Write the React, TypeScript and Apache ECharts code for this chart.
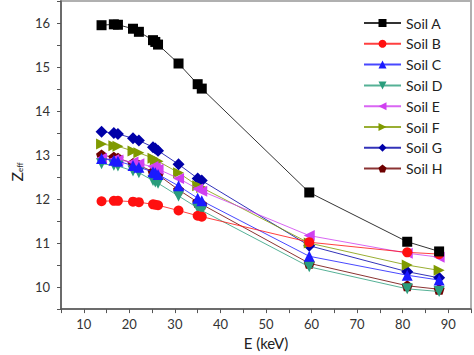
import React, { useEffect, useRef } from "react";
import * as echarts from "echarts";

const energies = [13.9, 16.6, 17.5, 20.8, 22.1, 25.2, 25.7, 26.3, 30.8, 35.0, 35.9, 59.5, 81.0, 88.0];
const soilA = [15.95, 15.97, 15.96, 15.87, 15.8, 15.61, 15.57, 15.51, 15.08, 14.61, 14.51, 12.15, 11.03, 10.81];
const soilB = [11.95, 11.96, 11.96, 11.94, 11.93, 11.88, 11.87, 11.86, 11.74, 11.62, 11.6, 11.02, 10.79, 10.75];
const soilC = [12.92, 12.88, 12.86, 12.76, 12.72, 12.62, 12.6, 12.56, 12.3, 12.02, 11.96, 10.7, 10.27, 10.16];
const soilD = [12.8, 12.77, 12.75, 12.64, 12.6, 12.42, 12.39, 12.36, 12.07, 11.8, 11.74, 10.46, 9.96, 9.9];
const soilE = [12.93, 12.9, 12.89, 12.84, 12.8, 12.74, 12.71, 12.68, 12.47, 12.23, 12.18, 11.17, 10.77, 10.68];
const soilF = [13.25, 13.21, 13.2, 13.09, 13.05, 12.93, 12.89, 12.86, 12.6, 12.3, 12.26, 11.0, 10.5, 10.38];
const soilG = [13.53, 13.5, 13.48, 13.38, 13.33, 13.18, 13.15, 13.1, 12.79, 12.47, 12.42, 10.94, 10.35, 10.21];
const soilH = [13.0, 12.95, 12.93, 12.81, 12.77, 12.62, 12.58, 12.55, 12.21, 11.93, 11.88, 10.54, 10.03, 9.95];

const seriesNames = ["Soil A", "Soil B", "Soil C", "Soil D", "Soil E", "Soil F", "Soil G", "Soil H"];
const seriesValues = [soilA, soilB, soilC, soilD, soilE, soilF, soilG, soilH];
const seriesColors = ["#000000", "#ff1010", "#1a1aff", "#2a9d7c", "#d040f0", "#7f9a00", "#0000a8", "#6e0000"];
const seriesSymbols = [
  "rect",
  "circle",
  "triangle",
  "path://M0,0 L10,0 L5,9 Z",
  "path://M0,5 L9,0 L9,10 Z",
  "path://M0,0 L9,5 L0,10 Z",
  "diamond",
  "path://M5,0 L10,3.8 L8.1,10 L1.9,10 L0,3.8 Z",
];
const seriesSizes = [10, 10, 11, 11, 11, 11, 12, 11];

export default function App() {
  const ref = useRef<HTMLDivElement>(null);
  useEffect(() => {
    if (!ref.current) return;
    const chart = echarts.init(ref.current, null, { renderer: "svg" });
    const font = "Lato, 'Open Sans', sans-serif";
    chart.setOption({
      animation: false,
      backgroundColor: "#ffffff",
      grid: {
        left: 47,
        top: 1,
        right: 2,
        bottom: 40,
        show: true,
        borderColor: "#b0b0b0",
        borderWidth: 2,
      },
      legend: {
        orient: "vertical",
        left: 358,
        top: 11,
        itemWidth: 37,
        itemHeight: 10,
        itemGap: 6.8,
        data: seriesNames,
        textStyle: { fontFamily: font, fontSize: 14, color: "#222" },
      },
      xAxis: {
        type: "value",
        min: 5,
        max: 95,
        interval: 5,
        name: "E (keV)",
        nameLocation: "middle",
        nameGap: 22,
        nameTextStyle: { fontFamily: font, fontSize: 15, color: "#222" },
        axisLine: { show: true, lineStyle: { color: "#555", width: 1.5 } },
        axisTick: { show: true, inside: false, length: 4, lineStyle: { color: "#555" } },
        axisLabel: {
          fontFamily: font,
          fontSize: 13,
          color: "#333",
          margin: 8,
          formatter: (v: number) => (v % 10 === 0 && v >= 10 && v <= 90 ? String(v) : ""),
        },
        splitLine: { show: false },
      },
      yAxis: {
        type: "value",
        min: 9.5,
        max: 16.5,
        interval: 0.5,
        name: "Z{s|eff}",
        nameLocation: "middle",
        nameGap: 37,
        nameRotate: 90,
        nameTextStyle: {
          fontFamily: font,
          fontSize: 16,
          color: "#222",
          padding: [0, 34, 0, 0],
          rich: { s: { fontSize: 8, fontFamily: font, color: "#222", verticalAlign: "bottom", padding: [8, 0, 0, 0] } },
        },
        axisLine: { show: true, lineStyle: { color: "#555", width: 1.5 } },
        axisTick: { show: true, inside: false, length: 4, lineStyle: { color: "#555" } },
        axisLabel: {
          fontFamily: font,
          fontSize: 13,
          color: "#333",
          margin: 11,
          formatter: (v: number) => (Number.isInteger(v) && v >= 10 && v <= 16 ? String(v) : ""),
        },
        splitLine: { show: false },
      },
      series: seriesNames.map((name, i) => ({
        name,
        type: "line",
        data: energies.map((e, j) => [e, seriesValues[i][j]]),
        symbol: seriesSymbols[i],
        symbolSize: seriesSizes[i],
        showAllSymbol: true,
        color: seriesColors[i],
        lineStyle: { width: 1, color: seriesColors[i], opacity: 0.8 },
        itemStyle: { color: seriesColors[i] },
        z: 10 - i,
      })),
    });
    return () => chart.dispose();
  }, []);
  return <div ref={ref} style={{ width: 474, height: 355, position: "absolute", left: 0, top: 0 }} />;
}
